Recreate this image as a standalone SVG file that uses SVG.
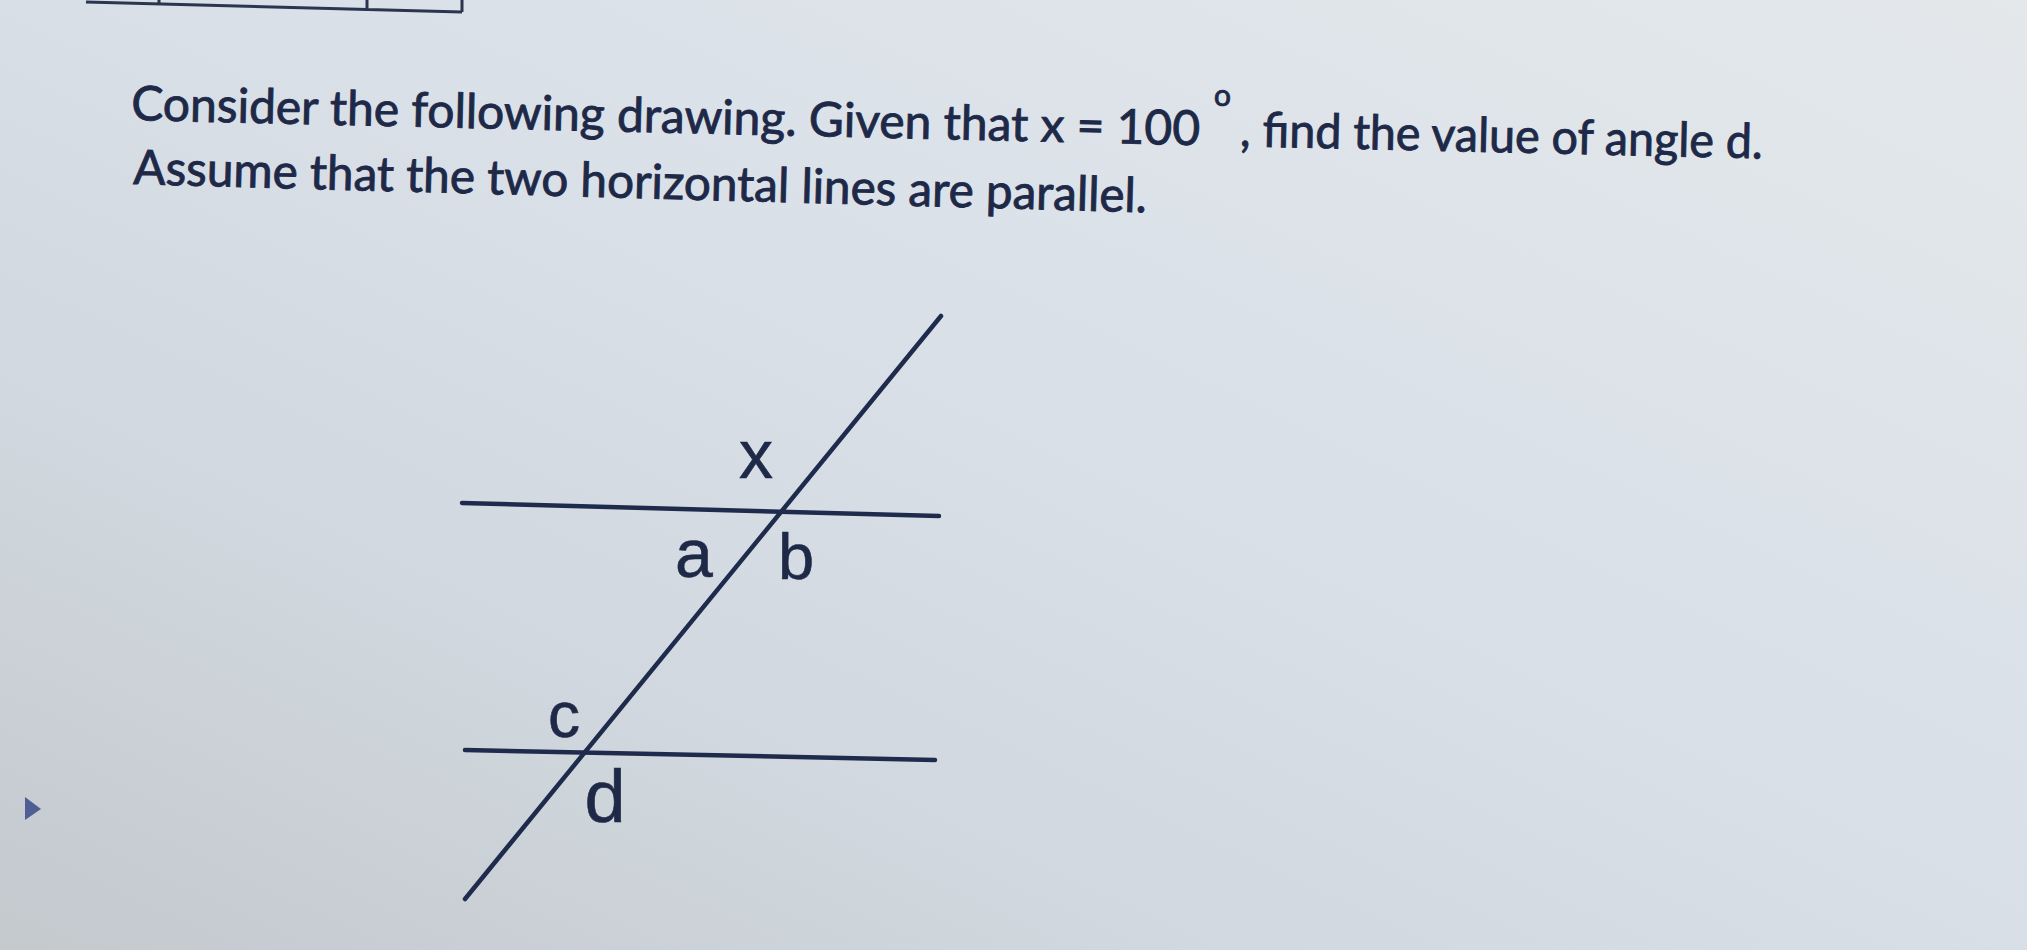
<svg xmlns="http://www.w3.org/2000/svg" width="2027" height="950" viewBox="0 0 2027 950">
<defs>
<linearGradient id="bg" x1="0" y1="1" x2="1" y2="0">
<stop offset="0" stop-color="#c3c9cd"/>
<stop offset="0.3" stop-color="#d1d8df"/>
<stop offset="0.55" stop-color="#d9e0e8"/>
<stop offset="1" stop-color="#e4e8eb"/>
</linearGradient>
<style>
.q{font-family:Lato,"Open Sans","Liberation Sans",sans-serif;font-size:48px;fill:#1e2948;stroke:#1e2948;stroke-width:0.9px;}
.lbl{font-family:"Liberation Sans",Arial,sans-serif;fill:#1e2948;stroke:#1e2948;stroke-width:0.6px;text-anchor:middle;}
.ln{stroke:#1f2b4d;stroke-width:4.5;stroke-linecap:round;fill:none;}
.tb{stroke:#2a3550;stroke-width:3;fill:none;}
</style>
</defs>
<rect x="0" y="0" width="2027" height="950" fill="url(#bg)"/>
<g id="table-fragment">
<path class="tb" d="M86 2 L462 12 M462 0 L462 12 M159 0 L159 4 M367 0 L367 9"/>
</g>
<g id="question">
<g transform="rotate(1.35 131 120)">
<text class="q" x="131" y="120" textLength="1069" lengthAdjust="spacingAndGlyphs">Consider the following drawing. Given that x = 100</text>
<text class="q" x="1213" y="80" style="font-size:30px">o</text>
<text class="q" x="1240" y="120" textLength="523" lengthAdjust="spacingAndGlyphs">, find the value of angle d.</text>
</g>
<g transform="rotate(1.6 133 183)">
<text class="q" x="133" y="184" textLength="1014" lengthAdjust="spacingAndGlyphs">Assume that the two horizontal lines are parallel.</text>
</g>
</g>
<g id="connectors">
<line id="transversal" class="ln" x1="941" y1="316" x2="465" y2="899"/>
<line id="upper-parallel" class="ln" x1="462" y1="503" x2="939" y2="516"/>
<line id="lower-parallel" class="ln" x1="465" y1="750" x2="935" y2="760"/>
</g>
<g id="label-x"><text class="lbl" x="756" y="478" font-size="68">x</text></g>
<g id="label-a"><text class="lbl" x="694" y="577" font-size="68">a</text></g>
<g id="label-b"><text class="lbl" x="796" y="579" font-size="65">b</text></g>
<g id="label-c"><text class="lbl" x="564" y="737" font-size="64">c</text></g>
<g id="label-d"><text class="lbl" x="605" y="822" font-size="74">d</text></g>
<g id="cursor-marker">
<polygon points="25,797 41,809 25,820" fill="#4d5f94"/>
</g>
</svg>
